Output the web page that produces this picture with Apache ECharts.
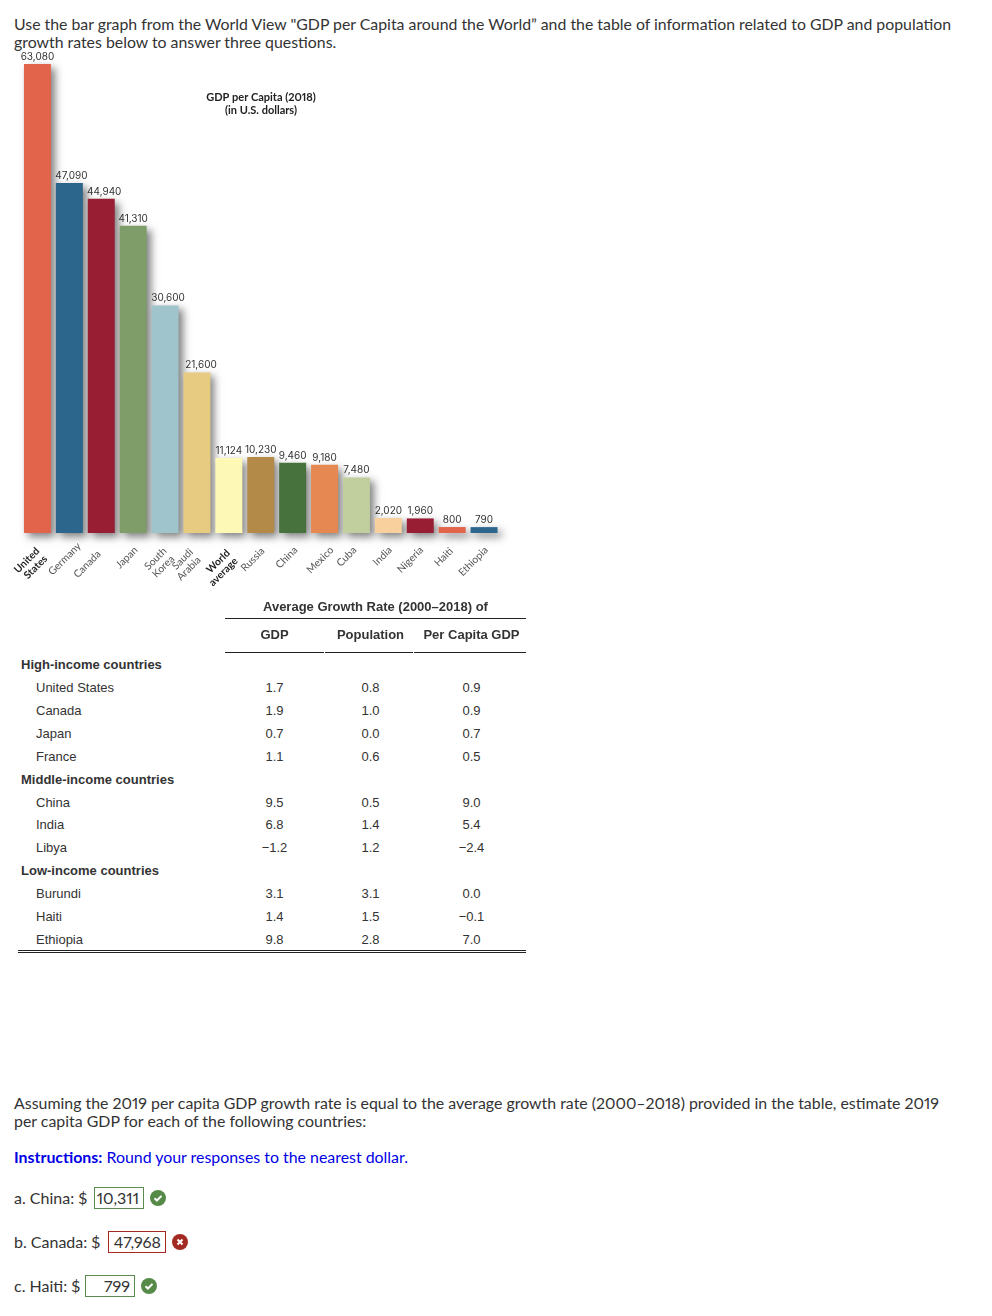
<!DOCTYPE html>
<html>
<head>
<meta charset="utf-8">
<script src="https://cdn.jsdelivr.net/npm/echarts@6/dist/echarts.min.js"></script>
<style>
  html, body { margin: 0; padding: 0; background: #fff; }
  #page { position: relative; width: 992px; height: 1316px; overflow: hidden; color: #333; font-family: Lato, sans-serif; font-feature-settings: "pnum"; }
  #chart { position: absolute; left: 0; top: 0; width: 992px; height: 600px; }
  .prose { position: absolute; left: 14px; width: 960px; font-size: 15.85px; line-height: 18px; white-space: nowrap; }
  .prose.lower { font-size: 15.9px; }
  .answer { position: absolute; left: 14px; height: 22px; font-size: 16px; line-height: 22px; white-space: nowrap; }
  .box { position: absolute; top: 0; box-sizing: border-box; height: 22px; line-height: 20px; padding-right: 4px; text-align: right; border: 1px solid #5a8a4f; }
  .box.wrong { border-color: #a32a22; }
  .answer svg { position: absolute; top: 3px; }
  #growth { position: absolute; left: 0; top: 1px; font: 13px "Liberation Sans", Arial, sans-serif; color: #333; }
  #growth div { position: absolute; white-space: nowrap; line-height: 16px; }
  #growth .num { width: 100px; text-align: center; }
  #growth .rule { height: 1px; background: #222; }
  #growth .bold { font-weight: bold; }
</style>
</head>
<body>
<div id="page">
  <div class="prose" style="top:15px">Use the bar graph from the World View "GDP per Capita around the World” and the table of information related to GDP and population<br>growth rates below to answer three questions.</div>
  <div id="chart"></div>
  <div id="growth"></div>
  <div class="prose lower" style="top:1094px">Assuming the 2019 per capita GDP growth rate is equal to the average growth rate (2000–2018) provided in the table, estimate 2019<br>per capita GDP for each of the following countries:</div>
  <div class="prose lower" style="top:1148px;color:#0000e6"><b>Instructions:</b> Round your responses to the nearest dollar.</div>
  <div id="answers"></div>
</div>
<script>
const countries = ['United\nStates', 'Germany', 'Canada', 'Japan', 'South\nKorea', 'Saudi\nArabia', 'World\naverage', 'Russia', 'China', 'Mexico', 'Cuba', 'India', 'Nigeria', 'Haiti', 'Ethiopia']
// bar heights as drawn; the world average bar stands lower than its printed 11,124
const barValues = [63080, 47090, 44940, 41310, 30600, 21600, 10090, 10230, 9460, 9180, 7480, 2020, 1960, 800, 790]
const barLabels = ['63,080', '47,090', '44,940', '41,310', '30,600', '21,600', '11,124', '10,230', '9,460', '9,180', '7,480', '2,020', '1,960', '800', '790']
const barColors = ['#E2654B', '#2C668C', '#971E33', '#7F9D68', '#9FC4CC', '#E6CB80', '#FDF8B5', '#B48A48', '#47713D', '#E58852', '#C0CF9D', '#F7D09E', '#971E33', '#E2654B', '#2C668C']
const boldCountries = ['United\nStates', 'World\naverage']
const labelNudge = [0, 2, 3, 0, 3, 4, 0, 0, 0, 0, 0, 0, 0, 0, 0]
// where each slanted name hangs from, measured from the foot of its bar
const nameNudge = [[-3.5, 12.5], [6, 7.5], [-6, 15.5], [-1, 11.5], [-4, 12.5], [-9.5, 13.5], [-4.5, 14.5], [-1.8, 12.5], [-0.7, 11.5], [3.4, 11.5], [-5.5, 11.5], [-2, 11.5], [-2.5, 11.5], [-4.7, 12.5], [-1.6, 11.5]]

const tableGroups = ['High-income countries', 'Middle-income countries', 'Low-income countries']
const tableCountries = [
  ['United States', 'Canada', 'Japan', 'France'],
  ['China', 'India', 'Libya'],
  ['Burundi', 'Haiti', 'Ethiopia']
]
const gdpGrowth = [['1.7', '1.9', '0.7', '1.1'], ['9.5', '6.8', '−1.2'], ['3.1', '1.4', '9.8']]
const popGrowth = [['0.8', '1.0', '0.0', '0.6'], ['0.5', '1.4', '1.2'], ['3.1', '1.5', '2.8']]
const perCapitaGrowth = [['0.9', '0.9', '0.7', '0.5'], ['9.0', '5.4', '−2.4'], ['0.0', '−0.1', '7.0']]

const answerLabels = ['a. China: $', 'b. Canada: $', 'c. Haiti: $']
const answerValues = ['10,311', '47,968', '799']
const answerCorrect = [true, false, true]
const answerBoxLeft = [80, 94, 71]
const answerBoxWidth = [50, 58, 50]

const chart = echarts.init(document.getElementById('chart'), null, { renderer: 'canvas' })
chart.setOption({
  animation: false,
  textStyle: { fontFamily: 'Lato, sans-serif' },
  title: {
    text: 'GDP per Capita (2018)\n(in U.S. dollars)',
    left: 256,
    top: 86,
    textAlign: 'center',
    textStyle: { fontSize: 11, fontWeight: 'bold', color: '#222', lineHeight: 13 }
  },
  grid: { left: 21.5, top: 64, width: 478.5, height: 469 },
  xAxis: {
    type: 'category',
    data: countries,
    axisLine: { show: false },
    axisTick: { show: false },
    axisLabel: { show: false }
  },
  yAxis: { type: 'value', min: 0, max: 63080, show: false },
  series: [{
    type: 'bar',
    barWidth: 27,
    data: barValues.map((value, i) => ({
      value: value,
      itemStyle: { color: barColors[i] },
      label: { offset: [labelNudge[i], 0] }
    })),
    itemStyle: {
      shadowColor: 'rgba(0,0,0,0.5)',
      shadowBlur: 8,
      shadowOffsetX: 4,
      shadowOffsetY: 4
    },
    label: {
      show: true,
      position: 'top',
      distance: 2,
      fontFamily: 'Inter, sans-serif',
      fontSize: 10,
      color: '#333',
      formatter: p => barLabels[p.dataIndex]
    }
  }, {
    // the axis cannot shift single labels, so the names hang off the bar feet here
    type: 'custom',
    silent: true,
    data: countries.map((name, i) => [i, 0]),
    renderItem(params, api) {
      const foot = api.coord([api.value(0), 0])
      const name = countries[params.dataIndex]
      const nudge = nameNudge[params.dataIndex]
      const bold = boldCountries.includes(name)
      return {
        type: 'text',
        x: foot[0] + nudge[0],
        y: foot[1] + nudge[1],
        rotation: Math.PI / 4,
        style: {
          text: name,
          align: 'right',
          verticalAlign: 'top',
          fontFamily: 'Lato, sans-serif',
          fontSize: 10.3,
          lineHeight: 11,
          fontWeight: bold ? 'bold' : 'normal',
          fill: bold ? '#222' : '#555'
        }
      }
    }
  }]
})

// table under the chart
const growth = document.getElementById('growth')
function put(text, left, top, cls) {
  const el = document.createElement('div')
  el.textContent = text
  el.style.left = left + 'px'
  el.style.top = top + 'px'
  if (cls) el.className = cls
  growth.appendChild(el)
}
function rule(left, top, width) {
  const el = document.createElement('div')
  el.className = 'rule'
  el.style.left = left + 'px'
  el.style.top = top + 'px'
  el.style.width = width + 'px'
  growth.appendChild(el)
}
put('Average Growth Rate (2000–2018) of', 263, 598, 'bold')
rule(225, 617, 301)
put('GDP', 224.5, 626, 'num bold')
put('Population', 320.5, 626, 'num bold')
put('Per Capita GDP', 421.5, 626, 'num bold')
rule(225, 651, 99); rule(325, 651, 88); rule(414, 651, 112)

let y = 656
tableGroups.forEach((group, g) => {
  put(group, 21, y, 'bold')
  y += 22.92
  tableCountries[g].forEach((name, i) => {
    put(name, 36, y)
    put(gdpGrowth[g][i], 224.5, y, 'num')
    put(popGrowth[g][i], 320.5, y, 'num')
    put(perCapitaGrowth[g][i], 421.5, y, 'num')
    y += 22.92
  })
})
rule(18, 949, 508); rule(18, 951, 508)

// answers
const checkIcon = left => `<svg style="left:${left}px" width="16" height="16" viewBox="0 0 16 16"><circle cx="8" cy="8" r="8" fill="#558a48"/><path d="M4.5 8.2l2.4 2.3 4.6-4.6" fill="none" stroke="#fff" stroke-width="2"/></svg>`
const crossIcon = left => `<svg style="left:${left}px" width="16" height="16" viewBox="0 0 16 16"><circle cx="8" cy="8" r="8" fill="#a32a22"/><path d="M5.5 5.5l5 5M10.5 5.5l-5 5" fill="none" stroke="#fff" stroke-width="2"/></svg>`
const answers = document.getElementById('answers')
answerLabels.forEach((label, i) => {
  const row = document.createElement('div')
  const iconLeft = answerBoxLeft[i] + answerBoxWidth[i] + 6
  row.className = 'answer'
  row.style.top = (1187 + i * 44) + 'px'
  row.innerHTML = `<span>${label}</span><span class="box${answerCorrect[i] ? '' : ' wrong'}" style="left:${answerBoxLeft[i]}px;width:${answerBoxWidth[i]}px">${answerValues[i]}</span>${answerCorrect[i] ? checkIcon(iconLeft) : crossIcon(iconLeft)}`
  answers.appendChild(row)
})
</script>
</body>
</html>
